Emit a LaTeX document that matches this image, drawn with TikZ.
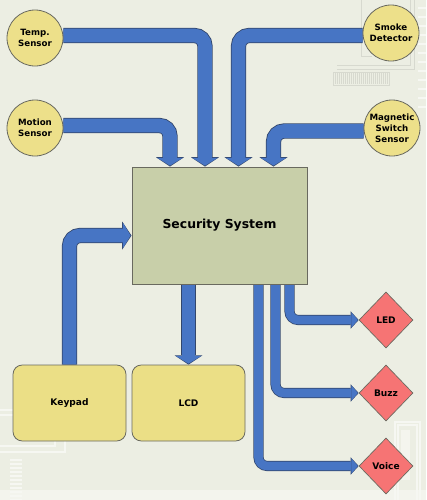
\documentclass[tikz,border=0pt]{standalone}
\usepackage{fontspec}
\setmainfont{DejaVu Sans}
\usepackage{tikz}
\usetikzlibrary{shapes.geometric, arrows.meta, calc}

\definecolor{bgfill}{RGB}{236,238,227}
\definecolor{flowblue}{RGB}{71,117,196}
\definecolor{flowedge}{RGB}{50,70,108}
\definecolor{sensorfill}{RGB}{237,224,138}
\definecolor{corefill}{RGB}{200,207,169}
\definecolor{padfill}{RGB}{235,223,134}
\definecolor{alarmfill}{RGB}{246,116,116}
\definecolor{outline}{RGB}{105,105,95}

\pgfdeclarelayer{bg}
\pgfdeclarelayer{flow}
\pgfsetlayers{bg,flow,main}

\newcommand{\bigflow}[1]{\draw[bigrim] #1; \draw[bigbody] #1;}
\newcommand{\smallflow}[1]{\draw[smallrim] #1; \draw[smallbody] #1;}

\begin{document}
\begin{tikzpicture}[x=0.75pt,y=0.75pt,yscale=-1,xscale=1,
  sensor/.style={circle, draw=outline, fill=sensorfill, line width=0.6pt, minimum size=42pt, inner sep=0pt, align=center, font=\fontsize{6.5}{8.1}\selectfont\bfseries},
  core/.style={rectangle, draw=outline, fill=corefill, line width=0.75pt, minimum width=131.25pt, minimum height=87.75pt, font=\fontsize{9.3}{11}\selectfont\bfseries},
  pad/.style={rectangle, rounded corners=7pt, draw=outline, fill=padfill, line width=0.6pt, minimum width=84.75pt, minimum height=57pt, font=\fontsize{6.8}{8}\selectfont\bfseries},
  alarm/.style={diamond, aspect=1, draw=outline, fill=alarmfill, line width=0.5pt, inner sep=0pt, minimum width=40.5pt, minimum height=42pt, font=\fontsize{6.8}{8}\selectfont\bfseries},
  bigrim/.style={line width=11.4pt, draw=flowedge, rounded corners=8pt, -{Triangle[width=21pt,length=7pt,line width=0pt]}},
  bigbody/.style={line width=10.2pt, draw=flowblue, rounded corners=8pt, shorten >=0.7pt, -{Triangle[width=19.2pt,length=5.8pt,line width=0pt]}},
  smallrim/.style={line width=7.6pt, draw=flowedge, rounded corners=6.5pt, -{Triangle[width=13pt,length=6pt,line width=0pt]}},
  smallbody/.style={line width=6.5pt, draw=flowblue, rounded corners=6.5pt, shorten >=0.6pt, -{Triangle[width=11.4pt,length=4.9pt,line width=0pt]}},
  trace/.style={draw=black!9!bgfill, line width=0.5pt},
  glow/.style={draw=white!55!bgfill, line width=0.8pt}
]
%set diagram to the size of the reference
\useasboundingbox (0,0) rectangle (426,500);
\begin{pgfonlayer}{bg}
\fill[bgfill] (0,0) rectangle (426,500);
\fill[white!35!bgfill] (0,490) rectangle (426,500);
%faint circuit traces, top right
\draw[trace] (361,0) -- (361,56) -- (372,56);
\draw[trace] (337,65) -- (410,65) -- (410,0);
\draw[trace] (337,69) -- (414,69) -- (414,0);
\draw[trace] (333,72) rectangle (389,85);
\foreach \tx in {335,337,...,388} \draw[trace, line width=0.3pt] (\tx,73) -- (\tx,84);
\foreach \ty in {8,17,...,107} \draw[glow] (418,\ty) -- (426,\ty);
%faint circuit traces, bottom
\draw[glow] (0,410) -- (14,410);
\draw[glow] (0,415) -- (14,415);
\draw[glow] (0,446) -- (55,446) -- (55,441);
\draw[glow] (0,452) -- (65,452) -- (65,441);
\foreach \ty in {460,464,...,500} \draw[glow] (10,\ty) -- (22,\ty);
\draw[glow] (395,500) -- (395,422) -- (420,422) -- (420,500);
\draw[glow] (398,500) -- (398,425) -- (417,425) -- (417,500);
\fill[white!40!bgfill] (401,430) rectangle (410,480);
\end{pgfonlayer}

%Main block
\node[core] (box) at (219.5,225.5) {Security System};

%Sensors
\node[sensor] (temp) at (35,38) {Temp.\\Sensor};
\node[sensor] (motion) at (35,128) {Motion\\Sensor};
\node[sensor] (smoke) at (391,33) {Smoke\\Detector};
\node[sensor] (magnetic) at (392,128) {Magnetic\\Switch\\Sensor};

%Keypad and display
\node[pad] (keypad) at (69.5,403) {Keypad};
\node[pad] (lcd) at (188.5,403) {LCD};

%Alarms
\node[alarm] (led) at (386,320) {LED};
\node[alarm] (buzz) at (386,393) {Buzz};
\node[alarm] (voice) at (386,466) {Voice};

\begin{pgfonlayer}{flow}
%Inputs
\bigflow{($(temp.east)+(0,-2.5)$) -| ($(box.north west)+(73.5,0)$)}
\bigflow{($(motion.east)+(0,-2.5)$) -| ($(box.north west)+(38.5,0)$)}
\bigflow{($(smoke.west)+(0,2.5)$) -| ($(box.north west)+(107,0)$)}
\bigflow{($(magnetic.west)+(0,3)$) -| ($(box.north west)+(142,0)$)}
\bigflow{(keypad.north) |- ($(box.west)+(0,10)$)}
%Outputs
\bigflow{(lcd.north |- box.south) -- (lcd.north)}
\smallflow{($(box.south west)+(158,0)$) |- (led.west)}
\smallflow{($(box.south west)+(144,0)$) |- (buzz.west)}
\smallflow{($(box.south west)+(127,0)$) |- (voice.west)}
\end{pgfonlayer}

\end{tikzpicture}
\end{document}
